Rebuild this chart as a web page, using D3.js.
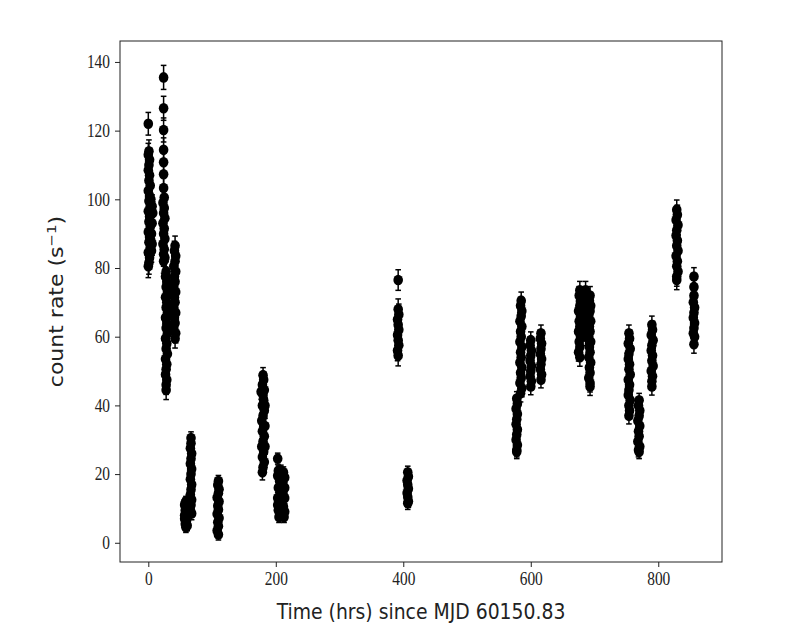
<!DOCTYPE html>
<html>
<head>
<meta charset="utf-8">
<script src="https://cdn.jsdelivr.net/npm/d3@7"></script>
<style>
  html, body { margin: 0; padding: 0; background: #fff; }
  svg { display: block; }
</style>
</head>
<body>
<svg id="chart" width="800" height="641"></svg>
<script>
// ---- data: [time (hrs since MJD 60150.83), count rate (s^-1)] per observation block ----
const segA  = [[0,122],[1,114],[0,113],[2,111.5],[1,110],[0,108.5],[2,107],[1,105.5],[3,104],[0,102.5],[2,101],[1,99.5],[3,98],[0,96.5],[2,95],[1,93.5],[3,92],[0,90.5],[2,89],[1,87.5],[3,86],[0,84.5],[2,83],[1,81.5],[0,80.5],[6,98],[7,96],[6,93],[5,90],[6,87],[5,85],[4,100],[4,88]];
const segB1 = [[24,135.5],[24,126.5],[24,120.2],[24,114.4],[24,110.8],[24,107.3],[24,103.3],[25,100.5],[23,99],[25,97.5],[24,96],[26,94.5],[23,93],[25,91.5],[24,90],[26,88.5],[23,87],[25,85.5],[24,84],[26,83],[24,82]];
const segB2 = [[28,79],[27,77.5],[29,76],[28,74.5],[30,73],[27,71.5],[29,70],[28,68.5],[30,67],[27,65.5],[29,64],[28,62.5],[30,61],[27,59.5],[29,58],[28,56.5],[30,55],[27,53.5],[29,52],[28,50.5],[27,49],[29,47.5],[28,46],[28,44.5]];
const segC  = [[42,86.5],[41,85],[43,83.5],[42,82],[40,80.5],[43,79],[41,77.5],[42,76],[40,74.5],[43,73],[41,71.5],[42,70],[40,68.5],[43,67],[41,65.5],[42,64],[40,62.5],[43,61],[42,59.5]];
const segD  = [[59,12],[57,11],[60,10.5],[58,9.5],[61,9],[57,8],[59,7.5],[60,6.5],[58,5.5],[61,5],[59,4.5],[57,7],[60,8.5],[58,11.5]];
const segE  = [[67,30.5],[67,29],[66,27.5],[68,26],[67,24.5],[66,23],[68,21.5],[67,20],[66,18.5],[68,17],[67,15.5],[66,14],[68,12.5],[67,11],[66,9.5],[68,8.5],[65,13],[65,10]];
const segF  = [[110,18],[109,16.8],[111,15.6],[110,14.4],[108,13.2],[111,12],[109,10.8],[110,9.6],[108,8.4],[111,7.2],[109,6],[110,4.8],[108,3.6],[110,2.4]];
const segG  = [[180,48.8],[181,47.5],[179,46],[182,44.5],[177,44],[180,43],[181,41.5],[179,40],[182,38.5],[180,37],[178,35.5],[181,34],[179,32.5],[182,31],[180,29.5],[178,28],[181,26.5],[179,25],[182,23.5],[180,22],[179,20.5],[183,40],[183,34],[183,28]];
const segH  = [[203,24.5],[204,21],[208,21],[212,20.5],[214,19],[203,19.5],[206,18],[210,17.5],[213,16],[204,16],[208,15],[211,14],[214,13],[203,13],[206,12],[209,11],[212,10.5],[214,9],[204,9.5],[207,8.5],[210,8],[213,7.5],[205,7.5],[203,11],[214,16],[209,19]];
const segI  = [[392,76.5],[392,68],[393,66.5],[391,65],[392,63.5],[393,62],[391,60.5],[392,59],[393,57.5],[391,56],[392,54.5]];
const segJ  = [[407,20.5],[408,19.3],[406,18.1],[407,16.9],[408,15.7],[406,14.5],[407,13.3],[408,12.1],[407,11.5]];
const segK1 = [[578,42],[579,40.5],[577,39],[579,37.5],[578,36],[577,34.5],[579,33],[578,31.5],[577,30],[579,28.5],[578,27],[578,26.5]];
const segK2 = [[585,70.5],[584,69],[586,67.5],[585,66],[583,64.5],[586,63],[584,61.5],[585,60],[583,58.5],[586,57],[584,55.5],[585,54],[583,52.5],[586,51],[584,49.5],[585,48],[583,46.5],[586,45],[584,43.5]];
const segK3 = [[600,59],[599,57.5],[601,56],[600,54.5],[599,53],[601,51.5],[600,50],[599,48.5],[601,47],[600,45.5]];
const segK4 = [[616,61],[615,59.5],[617,58],[616,56.5],[615,55],[617,53.5],[616,52],[615,50.5],[617,49],[616,47.5]];
const segL1 = [[677,73.5],[676,72],[678,70.5],[677,69],[675,67.5],[678,66],[676,64.5],[677,63],[675,61.5],[678,60],[676,58.5],[677,57],[675,55.5],[677,54]];
const segL2 = [[686,73.5],[685,72],[687,70.5],[686,69],[685,67.5],[687,66],[686,64.5],[685,63],[687,61.5],[686,60]];
const segL3 = [[693,72],[692,70.5],[694,69],[693,67.5],[691,66],[694,64.5],[692,63],[693,61.5],[691,60],[694,58.5],[692,57],[693,55.5],[691,54],[694,52.5],[692,51],[693,49.5],[691,48],[693,46.5],[693,45.5]];
const segM  = [[754,61],[755,59.5],[753,58],[756,56.5],[754,55],[753,53.5],[755,52],[754,50.5],[756,49],[753,47.5],[755,46],[754,44.5],[753,43],[756,41.5],[754,40],[755,38.5],[754,37]];
const segN  = [[770,41.5],[769,40],[771,38.5],[770,37],[768,35.5],[771,34],[769,32.5],[770,31],[768,29.5],[771,28],[769,27],[770,26.5]];
const segO  = [[790,63.5],[791,62],[789,60.5],[792,59],[790,57.5],[789,56],[791,54.5],[790,53],[792,51.5],[789,50],[791,48.5],[790,47],[790,45.5]];
const segP  = [[829,97],[830,95.5],[828,94],[831,92.5],[829,91],[828,89.5],[830,88],[829,86.5],[831,85],[828,83.5],[830,82],[829,80.5],[831,79],[829,77.5],[829,76.5]];
const segQ  = [[856,77.5],[856,74.5],[856,72],[855,70],[857,68.5],[856,67],[855,65.5],[857,64],[856,62.5],[855,61],[857,60],[856,57.8]];

const segments = [segA, segB1, segB2, segC, segD, segE, segF, segG, segH, segI, segJ, segK1, segK2, segK3, segK4, segL1, segL2, segL3, segM, segN, segO, segP, segQ];
// 1-sigma error on the count rate for each block
const segErrors = [3.3, 3.5, 2.8, 2.8, 1.5, 1.8, 1.6, 2.2, 1.6, 3.0, 1.8, 2.0, 2.5, 2.4, 2.4, 2.6, 2.6, 2.6, 2.4, 2.0, 2.5, 2.8, 2.6];

const xTicks = [0, 200, 400, 600, 800];
const yTicks = [0, 20, 40, 60, 80, 100, 120, 140];
const xLabel = "Time (hrs) since MJD 60150.83";

// ---- layout ----
const plot = { left: 120, top: 41, right: 722, bottom: 562 };
const SX = 0.855; // horizontal squash of the original figure

const x = d3.scaleLinear().domain([-44.4, 900]).range([plot.left, plot.right]);
const y = d3.scaleLinear().domain([-5.6, 146.1]).range([plot.bottom, plot.top]);

const svg = d3.select("#chart");
svg.append("rect").attr("width", 800).attr("height", 641).attr("fill", "#fff");

const points = [];
segments.forEach((seg, i) => seg.forEach(([t, r]) => points.push({ t, r, e: segErrors[i] })));

const g = svg.append("g");

// error bars
const eb = g.append("g").attr("stroke", "#000").attr("stroke-width", 1.5);
eb.selectAll("line.v").data(points).join("line").attr("class", "v")
  .attr("x1", d => x(d.t)).attr("x2", d => x(d.t))
  .attr("y1", d => y(d.r - d.e)).attr("y2", d => y(d.r + d.e));
eb.selectAll("line.ct").data(points).join("line").attr("class", "ct")
  .attr("x1", d => x(d.t) - 2.8).attr("x2", d => x(d.t) + 2.8)
  .attr("y1", d => y(d.r + d.e)).attr("y2", d => y(d.r + d.e));
eb.selectAll("line.cb").data(points).join("line").attr("class", "cb")
  .attr("x1", d => x(d.t) - 2.8).attr("x2", d => x(d.t) + 2.8)
  .attr("y1", d => y(d.r - d.e)).attr("y2", d => y(d.r - d.e));

// markers
g.append("g").selectAll("ellipse").data(points).join("ellipse")
  .attr("cx", d => x(d.t)).attr("cy", d => y(d.r))
  .attr("rx", 4.8).attr("ry", 5.3)
  .attr("fill", "#000");

// frame
svg.append("rect")
  .attr("x", plot.left).attr("y", plot.top)
  .attr("width", plot.right - plot.left).attr("height", plot.bottom - plot.top)
  .attr("fill", "none").attr("stroke", "#222").attr("stroke-width", 1);

// axes
const xAxis = svg.append("g").attr("transform", `translate(0,${plot.bottom})`)
  .call(d3.axisBottom(x).tickValues(xTicks).tickSize(5).tickPadding(5).tickSizeOuter(0));
xAxis.select(".domain").remove();
xAxis.selectAll("line").attr("stroke", "#222");
xAxis.selectAll("text")
  .attr("font-family", "'Liberation Serif', 'Times New Roman', serif")
  .attr("font-size", 18).attr("fill", "#222")
  .attr("dy", "0.71em")
  .attr("transform", `scale(${SX},1)`);

const yAxis = svg.append("g").attr("transform", `translate(${plot.left},0)`)
  .call(d3.axisLeft(y).tickValues(yTicks).tickSize(5).tickPadding(5).tickSizeOuter(0));
yAxis.select(".domain").remove();
yAxis.selectAll("line").attr("stroke", "#222");
yAxis.selectAll("text")
  .attr("font-family", "'Liberation Serif', 'Times New Roman', serif")
  .attr("font-size", 18).attr("fill", "#222")
  .attr("x", -10 / SX)
  .attr("transform", `scale(${SX},1)`);

// axis titles
svg.append("text")
  .attr("transform", `translate(${(plot.left + plot.right) / 2},619) scale(${SX},1)`)
  .attr("text-anchor", "middle")
  .attr("font-family", "'DejaVu Sans', sans-serif")
  .attr("font-size", 22).attr("fill", "#222")
  .text(xLabel);

const yl = svg.append("text")
  .attr("transform", `translate(63,${(plot.top + plot.bottom) / 2}) scale(${SX},1) rotate(-90)`)
  .attr("text-anchor", "middle")
  .attr("font-family", "'DejaVu Sans', sans-serif")
  .attr("font-size", 22).attr("fill", "#222");
yl.append("tspan").text("count rate (s");
yl.append("tspan").attr("font-size", 15).attr("dy", "-0.55em").text("\u22121");
yl.append("tspan").attr("dy", "0.37em").text(")");
</script>
</body>
</html>
